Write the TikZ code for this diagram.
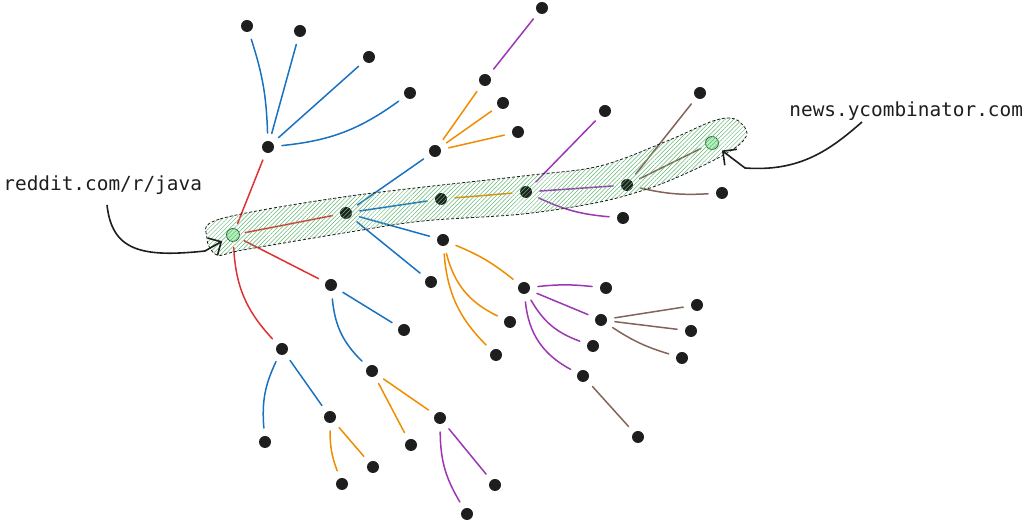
\documentclass[tikz,border=0pt]{standalone}
\usepackage{fontspec}
\setmainfont{DejaVu Sans Mono}
\usepackage{tikz, xcolor}
\usetikzlibrary{shapes,arrows.meta,patterns.meta}

\definecolor{edgered}{HTML}{E03131}
\definecolor{edgeblue}{HTML}{1971C2}
\definecolor{edgeorange}{HTML}{F08C00}
\definecolor{edgepurple}{HTML}{9C36B5}
\definecolor{edgebrown}{HTML}{846358}
\definecolor{dotgray}{HTML}{1E1E1E}
\definecolor{bandgreen}{HTML}{2F9E44}
\definecolor{lightgreen}{HTML}{B2F2BB}

\begin{document}
\begin{tikzpicture}[x=0.5pt, y=-0.5pt]
\tikzstyle{vertexd}=[circle, fill=dotgray, minimum size=6pt, inner sep=0pt, outer sep=4pt]
\tikzstyle{vertexg}=[circle, draw=bandgreen!50!dotgray, fill=lightgreen, line width=0.4pt, minimum size=6.5pt, inner sep=0pt, outer sep=3pt]
\tikzstyle{drawstyle}=[line width=0.75pt, line cap=round]
\tikzstyle{leaderstyle}=[line width=0.8pt, draw=dotgray, -{Straight Barb[length=5pt,width=10pt]}]
\tikzstyle{textlabel}=[inner sep=0pt, text=dotgray, font=\fontsize{9.7}{12}\selectfont]
\tikzstyle{bandstyle}=[draw=dotgray, line width=0.4pt, dash pattern=on 1.5pt off 1pt, pattern={Lines[angle=45,distance=1.5pt,line width=0.25pt]}, pattern color=bandgreen!75]

\useasboundingbox (0,0) rectangle (1024,522);

\node[vertexg] (G0x0) at (233,235) {};
\node[vertexd] (G1x0) at (268,147) {};
\node[vertexd] (G1x1) at (346,213) {};
\node[vertexd] (G1x2) at (331,285) {};
\node[vertexd] (G1x3) at (282,349) {};
\draw[drawstyle, edgered] (G0x0) -- (G1x0);
\draw[drawstyle, edgered] (G0x0) -- (G1x1);
\draw[drawstyle, edgered] (G0x0) -- (G1x2);
\draw[drawstyle, edgered] (G0x0) to[bend right=20] (G1x3);

\node[vertexd] (G2x0) at (247,26) {};
\node[vertexd] (G2x1) at (300,31) {};
\node[vertexd] (G2x2) at (369,57) {};
\node[vertexd] (G2x3) at (410,93) {};
\draw[drawstyle, edgeblue] (G1x0) to[bend right=8] (G2x0);
\draw[drawstyle, edgeblue] (G1x0) -- (G2x1);
\draw[drawstyle, edgeblue] (G1x0) -- (G2x2);
\draw[drawstyle, edgeblue] (G1x0) to[bend right=15] (G2x3);
\node[vertexd] (G2x4) at (435,151) {};
\node[vertexd] (G2x5) at (441,199) {};
\node[vertexd] (G2x6) at (443,240) {};
\node[vertexd] (G2x7) at (431,282) {};
\draw[drawstyle, edgeblue] (G1x1) -- (G2x4);
\draw[drawstyle, edgeblue] (G1x1) -- (G2x5);
\draw[drawstyle, edgeblue] (G1x1) -- (G2x6);
\draw[drawstyle, edgeblue] (G1x1) -- (G2x7);
\node[vertexd] (G2x8) at (404,330) {};
\node[vertexd] (G2x9) at (372,371) {};
\draw[drawstyle, edgeblue] (G1x2) -- (G2x8);
\draw[drawstyle, edgeblue] (G1x2) to[bend right=20] (G2x9);
\node[vertexd] (G2x10) at (265,442) {};
\node[vertexd] (G2x11) at (330,417) {};
\draw[drawstyle, edgeblue] (G1x3) to[bend right=15] (G2x10);
\draw[drawstyle, edgeblue] (G1x3) -- (G2x11);

\node[vertexd] (G3x0) at (485,80) {};
\node[vertexd] (G3x1) at (503,103) {};
\node[vertexd] (G3x2) at (518,132) {};
\draw[drawstyle, edgeorange] (G2x4) -- (G3x0);
\draw[drawstyle, edgeorange] (G2x4) -- (G3x1);
\draw[drawstyle, edgeorange] (G2x4) -- (G3x2);
\node[vertexd] (G3x3) at (526,192) {};
\draw[drawstyle, edgeorange] (G2x5) -- (G3x3);
\node[vertexd] (G3x4) at (524,288) {};
\node[vertexd] (G3x5) at (510,322) {};
\node[vertexd] (G3x6) at (496,355) {};
\draw[drawstyle, edgeorange] (G2x6) to[bend left=8] (G3x4);
\draw[drawstyle, edgeorange] (G2x6) to[bend right=25] (G3x5);
\draw[drawstyle, edgeorange] (G2x6) to[bend right=20] (G3x6);
\node[vertexd] (G3x7) at (440,418) {};
\node[vertexd] (G3x8) at (411,445) {};
\draw[drawstyle, edgeorange] (G2x9) -- (G3x7);
\draw[drawstyle, edgeorange] (G2x9) -- (G3x8);
\node[vertexd] (G3x9) at (373,467) {};
\node[vertexd] (G3x10) at (342,484) {};
\draw[drawstyle, edgeorange] (G2x11) -- (G3x9);
\draw[drawstyle, edgeorange] (G2x11) to[bend right=10] (G3x10);

\node[vertexd] (G4x0) at (542,8) {};
\draw[drawstyle, edgepurple] (G3x0) -- (G4x0);
\node[vertexd] (G4x1) at (605,111) {};
\node[vertexd] (G4x2) at (627,185) {};
\node[vertexd] (G4x3) at (623,218) {};
\draw[drawstyle, edgepurple] (G3x3) -- (G4x1);
\draw[drawstyle, edgepurple] (G3x3) -- (G4x2);
\draw[drawstyle, edgepurple] (G3x3) to[bend right=10] (G4x3);
\node[vertexd] (G4x4) at (606,288) {};
\node[vertexd] (G4x5) at (601,320) {};
\node[vertexd] (G4x6) at (593,346) {};
\node[vertexd] (G4x7) at (583,376) {};
\draw[drawstyle, edgepurple] (G3x4) to[bend left=6] (G4x4);
\draw[drawstyle, edgepurple] (G3x4) -- (G4x5);
\draw[drawstyle, edgepurple] (G3x4) to[bend right=20] (G4x6);
\draw[drawstyle, edgepurple] (G3x4) to[bend right=28] (G4x7);
\node[vertexd] (G4x8) at (495,485) {};
\node[vertexd] (G4x9) at (467,514) {};
\draw[drawstyle, edgepurple] (G3x7) -- (G4x8);
\draw[drawstyle, edgepurple] (G3x7) to[bend right=15] (G4x9);

\node[vertexd] (G5x0) at (700,93) {};
\node[vertexg] (G5x1) at (712,143) {};
\node[vertexd] (G5x2) at (722,193) {};
\draw[drawstyle, edgebrown] (G4x2) -- (G5x0);
\draw[drawstyle, edgebrown] (G4x2) -- (G5x1);
\draw[drawstyle, edgebrown] (G4x2) to[bend right=8] (G5x2);
\node[vertexd] (G5x3) at (697,305) {};
\node[vertexd] (G5x4) at (691,331) {};
\node[vertexd] (G5x5) at (682,358) {};
\draw[drawstyle, edgebrown] (G4x5) -- (G5x3);
\draw[drawstyle, edgebrown] (G4x5) -- (G5x4);
\draw[drawstyle, edgebrown] (G4x5) to[bend right=8] (G5x5);
\node[vertexd] (G5x6) at (638,437) {};
\draw[drawstyle, edgebrown] (G4x7) -- (G5x6);

% highlighted path
\draw[bandstyle] plot[smooth cycle, tension=0.55] coordinates {(207,238) (220,219) (350,196) (523,176) (600,166) (667,141) (713,121) (735,119) (747,133) (735,148) (700,167) (653,187) (600,202) (523,214) (423,221) (350,232) (243,250) (217,255)};

\node[textlabel, anchor=base west] (reddit) at (3,191) {reddit.com/r/java};
\node[textlabel, anchor=base west] (news) at (789,117) {news.ycombinator.com};
\coordinate (redditfoot) at (107,205);
\coordinate (newsfoot) at (862,122);
\draw[leaderstyle] (redditfoot) .. controls (112,250) and (140,258) .. (205,251) -- (G0x0);
\draw[leaderstyle] (newsfoot) .. controls (830,150) and (800,172) .. (745,168) -- (G5x1);
\end{tikzpicture}
\end{document}
